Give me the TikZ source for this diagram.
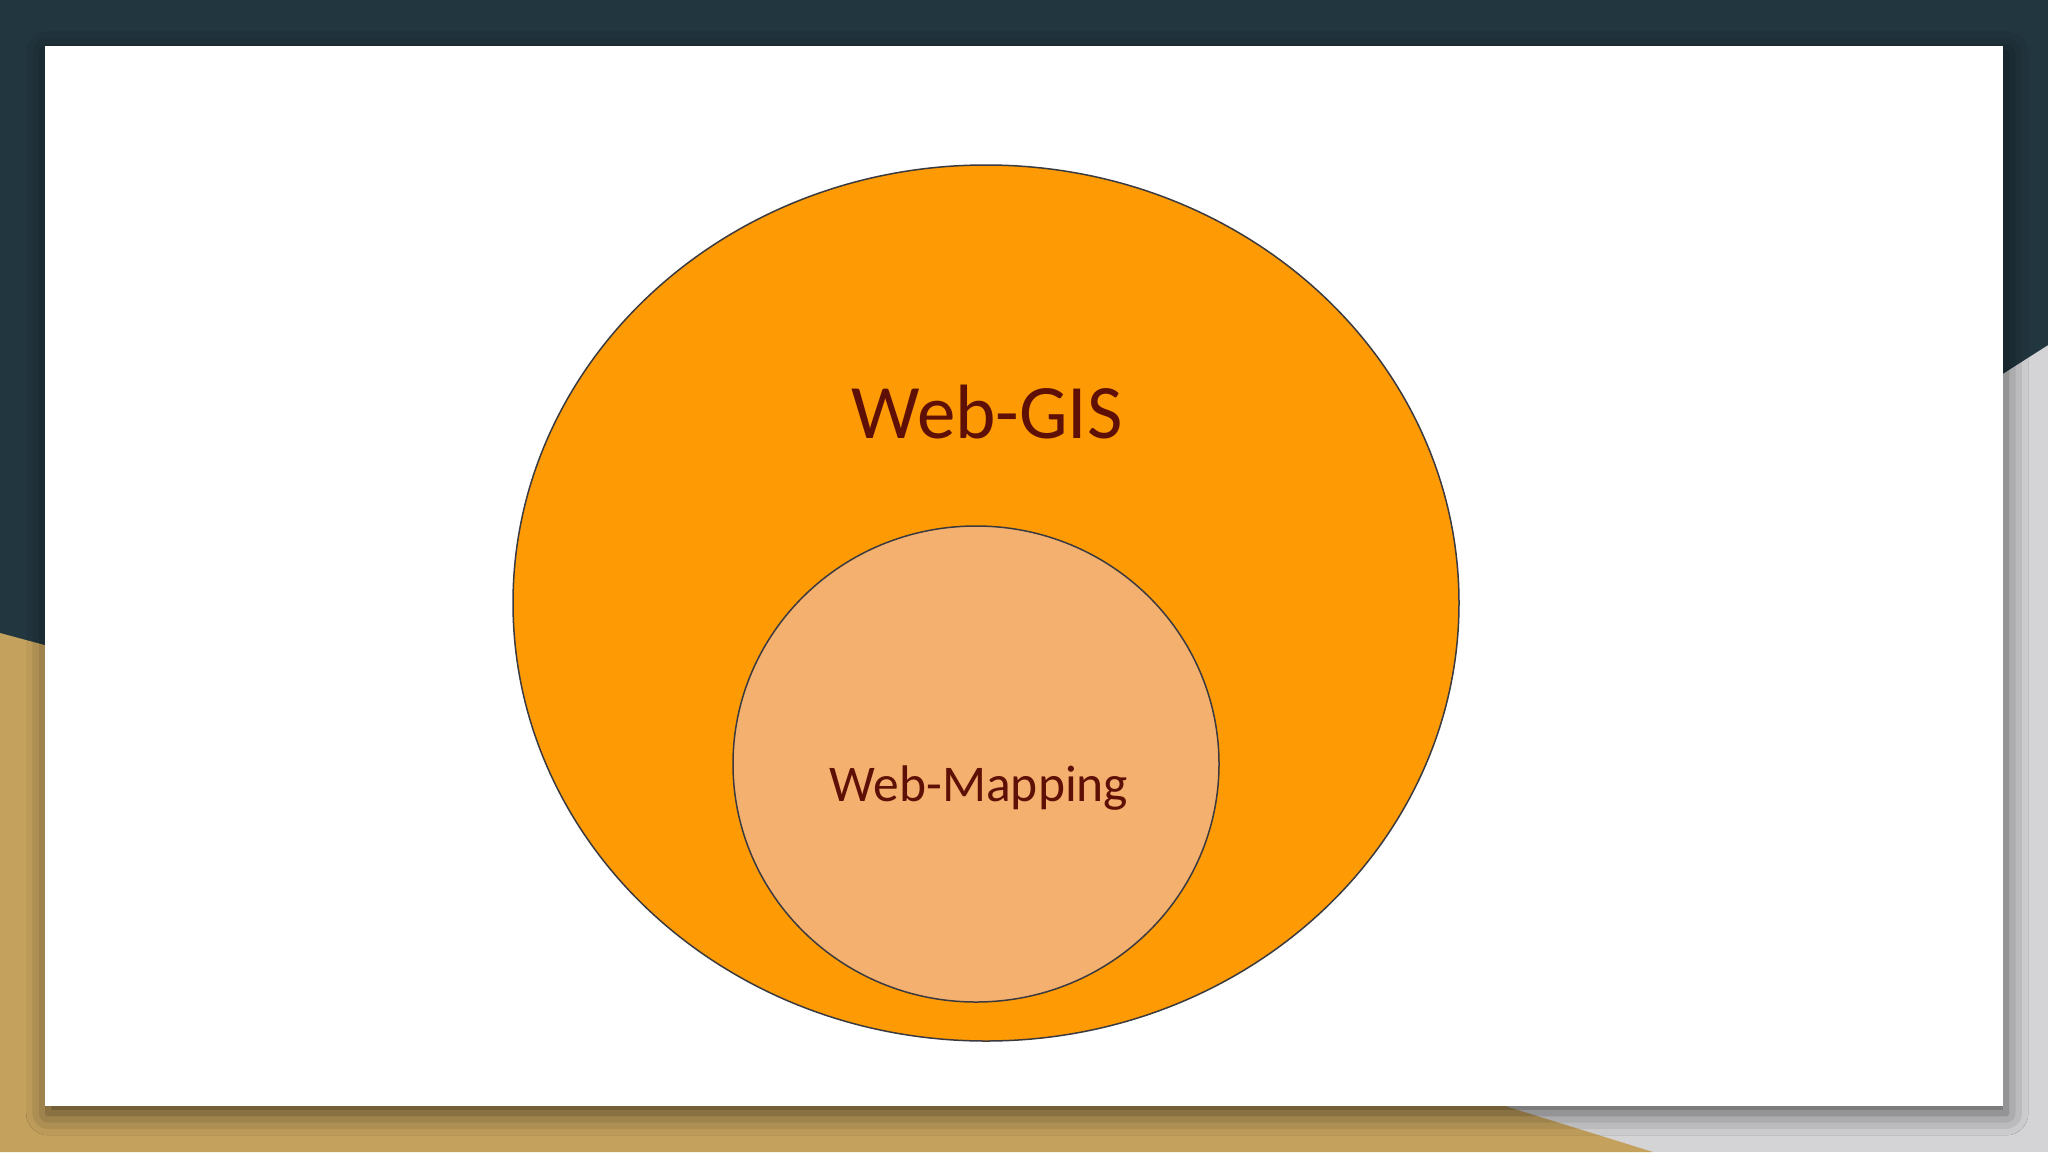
\documentclass[tikz,border=0pt]{standalone}
\usepackage{fontspec}
\setmainfont{Carlito}
\usetikzlibrary{shapes.geometric,shadows.blur}
\definecolor{navy}{HTML}{22363F}
\definecolor{tan}{HTML}{C4A25E}
\definecolor{lgray}{HTML}{D4D3D6}
\definecolor{orng}{HTML}{FD9A04}
\definecolor{peach}{HTML}{F4B06E}
\definecolor{txt}{HTML}{5E1006}
\definecolor{edge}{HTML}{3A3A40}
\tikzset{
  blob/.style={ellipse, draw=edge, line width=1.5pt, inner sep=0pt},
  lbl/.style={text=txt, anchor=base, inner sep=0pt}
}
\begin{document}
\begin{tikzpicture}[x=1pt,y=-1pt]
\useasboundingbox (0,0) rectangle (2048,1152);
\fill[lgray] (0,0) rectangle (2048,1152);
\fill[navy] (0,0) -- (2048,0) -- (2048,345) -- (1100,950) -- (0,950) -- cycle;
\fill[tan] (0,633) -- (1100,930) -- (1505,1106) -- (1653,1152) -- (0,1152) -- cycle;
\node[fill=white, minimum width=1958pt, minimum height=1060pt, inner sep=0pt, anchor=north west,
  blur shadow={shadow xshift=3pt, shadow yshift=-7pt, shadow blur radius=22pt, shadow opacity=60}]
  (card) at (45,46) {};
\node[blob, fill=orng, minimum width=946pt, minimum height=876pt] (gis) at (986,603) {};
\node[blob, fill=peach, minimum width=486pt, minimum height=476pt] (map) at (976,764) {};
\node[lbl, font=\fontsize{77}{92}\selectfont] (tgis) at (987,438) {Web-GIS};
\node[lbl, font=\fontsize{51.5}{62}\selectfont] (tmap) at (979,801) {Web-Mapping};
\end{tikzpicture}
\end{document}
